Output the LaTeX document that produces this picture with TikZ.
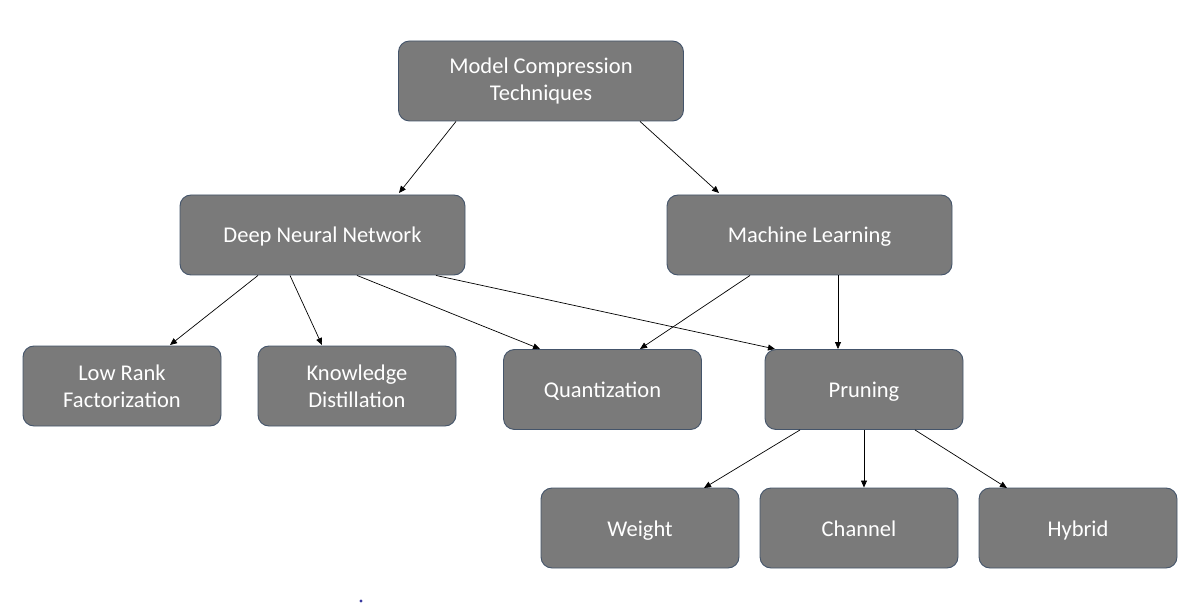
\documentclass[tikz,border=0pt]{standalone}
\usepackage{fontspec}
\setmainfont{Carlito}
\usetikzlibrary{arrows.meta}
\definecolor{boxfill}{HTML}{7A7A7A}
\definecolor{boxline}{HTML}{44546A}
\definecolor{dotblue}{HTML}{3A3AA0}
\begin{document}
\begin{tikzpicture}[x=1pt,y=-1pt,
  box/.style={draw=boxline, fill=boxfill, line width=0.9pt, rounded corners=11pt,
    minimum width=198pt, minimum height=80pt, inner sep=0pt, align=center,
    text=white, font=\fontsize{22.5}{27}\selectfont},
  onebox/.style={box, text height=18pt, text depth=2pt},
  wbox/.style={minimum width=285pt},
  conn/.style={-{Triangle[length=7pt,width=6pt]}, line width=0.7pt, black}]
\useasboundingbox (0,0) rectangle (1200,604);
\node[box,wbox] (mct) at (541,81) {Model Compression\\Techniques};
\node[onebox,wbox] (dnn) at (322.5,235) {Deep Neural Network};
\node[onebox,wbox] (ml) at (809.5,235) {Machine Learning};
\node[box] (lrf) at (122,386) {Low Rank\\Factorization};
\node[box] (kd) at (357,386) {Knowledge\\Distillation};
\node[onebox] (qu) at (602.5,389.5) {Quantization};
\node[onebox] (pr) at (864,389.5) {Pruning};
\node[onebox] (we) at (640,528) {Weight};
\node[onebox] (ch) at (859,528) {Channel};
\node[onebox] (hy) at (1078,528) {Hybrid};
\draw[conn] (mct.south -| 456,0) -- (399,193);
\draw[conn] (mct.south -| 640,0) -- (719,193);
\draw[conn] (dnn.south -| 258,0) -- (170,345);
\draw[conn] (dnn.south -| 290,0) -- (322,345);
\draw[conn] (dnn.south -| 357,0) -- (540,349);
\draw[conn] (dnn.south -| 436,0) -- (775,349);
\draw[conn] (ml.south -| 750,0) -- (640,349);
\draw[conn] (ml.south -| 838,0) -- (pr.north -| 838,0);
\draw[conn] (pr.south -| 800,0) -- (704,488);
\draw[conn] (pr.south -| 864,0) -- (ch.north -| 864,0);
\draw[conn] (pr.south -| 915,0) -- (1007,488);
\fill[dotblue] (361,601) circle (1.6pt);
\end{tikzpicture}
\end{document}
